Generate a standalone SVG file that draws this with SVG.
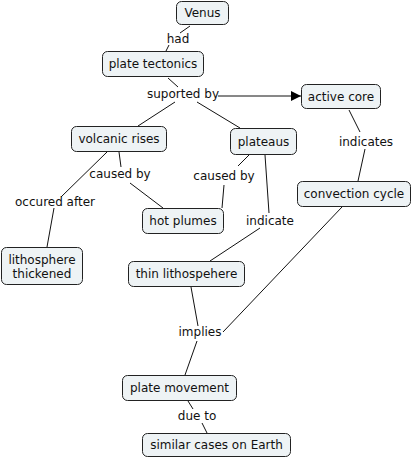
<svg xmlns="http://www.w3.org/2000/svg" width="414" height="460" viewBox="0 0 414 460">
<defs>
<style>
.n rect{fill:#eef3f5;stroke:#222;stroke-width:1}
text{font-family:"DejaVu Sans",Verdana,sans-serif;font-size:12px;fill:#111;text-anchor:middle}
.c line{stroke:#111;stroke-width:1}
</style>
<marker id="ah" markerWidth="10" markerHeight="10" refX="10" refY="5" orient="auto" markerUnits="userSpaceOnUse">
<path d="M0,0 L10,5 L0,10 Z" fill="#000"/>
</marker>
</defs>
<rect width="414" height="460" fill="#fff"/>
<g id="connectors" class="c">
<line x1="190" y1="26" x2="180" y2="33"/>
<line x1="169" y1="45" x2="166" y2="51"/>
<line x1="168" y1="78" x2="178" y2="87"/>
<line x1="218" y1="96" x2="301" y2="96" marker-end="url(#ah)"/>
<line x1="175" y1="102" x2="138" y2="126"/>
<line x1="197" y1="102" x2="240" y2="128"/>
<line x1="349" y1="110" x2="360" y2="132"/>
<line x1="365" y1="149" x2="358" y2="181"/>
<line x1="119" y1="152" x2="121" y2="167"/>
<line x1="130" y1="183" x2="163" y2="208"/>
<line x1="107" y1="152" x2="61" y2="197"/>
<line x1="54" y1="208" x2="47" y2="247"/>
<line x1="249" y1="155" x2="238" y2="166"/>
<line x1="224" y1="185" x2="222" y2="208"/>
<line x1="265" y1="155" x2="269" y2="213"/>
<line x1="260" y1="228" x2="210" y2="261"/>
<line x1="342" y1="207" x2="223" y2="332"/>
<line x1="191" y1="287" x2="198" y2="326"/>
<line x1="197" y1="341" x2="185" y2="375"/>
<line x1="188" y1="401" x2="193" y2="409"/>
<line x1="202" y1="423" x2="207" y2="433"/>
</g>
<g id="labels">
<text x="178" y="43">had</text>
<text x="183" y="98">suported by</text>
<text x="366" y="146">indicates</text>
<text x="120" y="178">caused by</text>
<text x="55" y="206">occured after</text>
<text x="224" y="180">caused by</text>
<text x="270" y="225">indicate</text>
<text x="200" y="336">implies</text>
<text x="197" y="420">due to</text>
</g>
<g id="venus" class="n"><rect x="176.5" y="1.5" width="52" height="23" rx="5"/><text x="202.5" y="17">Venus</text></g>
<g id="plate-tectonics" class="n"><rect x="102.5" y="51.5" width="101" height="25" rx="5"/><text x="153" y="68">plate tectonics</text></g>
<g id="active-core" class="n"><rect x="301.5" y="84.5" width="79" height="24" rx="5"/><text x="341" y="101">active core</text></g>
<g id="volcanic-rises" class="n"><rect x="71.5" y="126.5" width="95" height="25" rx="5"/><text x="119" y="143">volcanic rises</text></g>
<g id="plateaus" class="n"><rect x="230.5" y="128.5" width="66" height="26" rx="5"/><text x="263.5" y="146">plateaus</text></g>
<g id="convection-cycle" class="n"><rect x="297.5" y="181.5" width="113" height="25" rx="5"/><text x="354" y="198">convection cycle</text></g>
<g id="hot-plumes" class="n"><rect x="142.5" y="208.5" width="81" height="25" rx="5"/><text x="183" y="225">hot plumes</text></g>
<g id="lithosphere-thickened" class="n"><rect x="1.5" y="247.5" width="81" height="37" rx="5"/><text x="42" y="264">lithosphere</text><text x="42" y="278">thickened</text></g>
<g id="thin-lithospehere" class="n"><rect x="128.5" y="261.5" width="116" height="25" rx="5"/><text x="186.5" y="278">thin lithospehere</text></g>
<g id="plate-movement" class="n"><rect x="122.5" y="375.5" width="114" height="25" rx="5"/><text x="179.5" y="392">plate movement</text></g>
<g id="similar-cases" class="n"><rect x="142.5" y="433.5" width="148" height="23" rx="5"/><text x="216.5" y="449">similar cases on Earth</text></g>
</svg>
